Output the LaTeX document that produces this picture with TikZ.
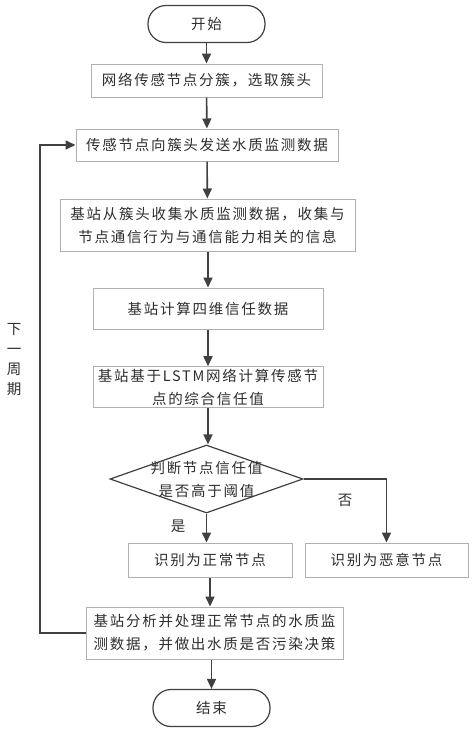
\documentclass[tikz,border=0pt]{standalone}
\usepackage{fontspec}
\setmainfont{Noto Sans CJK SC}[LetterSpace=12]
\usetikzlibrary{arrows.meta, shapes.geometric}
\definecolor{boxgray}{HTML}{B0B0B0}
\definecolor{linegray}{HTML}{404040}
\definecolor{textgray}{HTML}{2E2E2E}

\begin{document}
\begin{tikzpicture}[x=1pt, y=-1pt,
                >={Triangle[length=10pt, width=9pt]},
                every node/.style={font=\fontsize{14.5}{23}\selectfont, text=textgray},
                box/.style={draw=boxgray, line width=1pt, rectangle, align=center, fill=white, inner sep=2pt},
                terminal/.style={draw=linegray, line width=1.2pt, rectangle, rounded corners=18pt, minimum width=117pt, minimum height=37pt},
                decision/.style={draw=linegray, line width=1.2pt, diamond, minimum width=193pt, minimum height=68pt, inner sep=0pt},
                flow/.style={->, line width=1.6pt, draw=linegray}
            ]
            \useasboundingbox (0,0) rectangle (474,732);
            % Nodes
            \node[terminal] (start) at (206.5,24) {开始};
            \node[box, minimum width=231pt, minimum height=33pt] (cluster) at (206.5,80.5) {网络传感节点分簇，选取簇头};
            \node[box, minimum width=262pt, minimum height=32pt] (send) at (207,145) {传感节点向簇头发送水质监测数据};
            \node[box, minimum width=295pt, minimum height=52pt] (collect) at (207.5,225) {基站从簇头收集水质监测数据，收集与\\节点通信行为与通信能力相关的信息};
            \node[box, minimum width=230pt, minimum height=41pt] (trust) at (208,308.5) {基站计算四维信任数据};
            \node[box, minimum width=230pt, minimum height=40pt] (lstm) at (208,387) {基站基于LSTM网络计算传感节\\点的综合信任值};
            \node[decision] (judge) at (206.5,479) {};
            \node[align=center] (judgetext) at (judge.center) {判断节点信任值\\是否高于阈值};
            \node[box, minimum width=164pt, minimum height=34pt] (normal) at (210,560) {识别为正常节点};
            \node[box, minimum width=163pt, minimum height=34pt] (malicious) at (386.5,560) {识别为恶意节点};
            \node[box, minimum width=257pt, minimum height=52pt] (decide) at (214.5,633) {基站分析并处理正常节点的水质监\\测数据，并做出水质是否污染决策};
            \node[terminal] (stop) at (211.5,708) {结束};
            \node (yes) at (178,526) {是};
            \node (no) at (345,500) {否};
            \node[align=center, font=\fontsize{14.5}{20}\selectfont] (cycle) at (14,360) {下\\一\\周\\期};
            \coordinate (loopx) at (40,633);

            % Edges
            \draw[flow] (start) -- (cluster);
            \draw[flow] (cluster) -- (send);
            \draw[flow] (send) -- (collect);
            \draw[flow] (collect.south -| trust.north) -- (trust);
            \draw[flow] (trust) -- (lstm);
            \draw[flow] (lstm.south) -- (lstm.south |- judge.north);
            \draw[flow] (judge.south) -- (judge.south |- normal.north);
            \draw[flow] (judge.east) -| (malicious.north);
            \draw[flow] (normal.south) -- (normal.south |- decide.north);
            \draw[flow] (decide.south -| stop.north) -- (stop);
            \draw[flow] (decide.west) -- (loopx) |- (send.west);
\end{tikzpicture}
\end{document}
